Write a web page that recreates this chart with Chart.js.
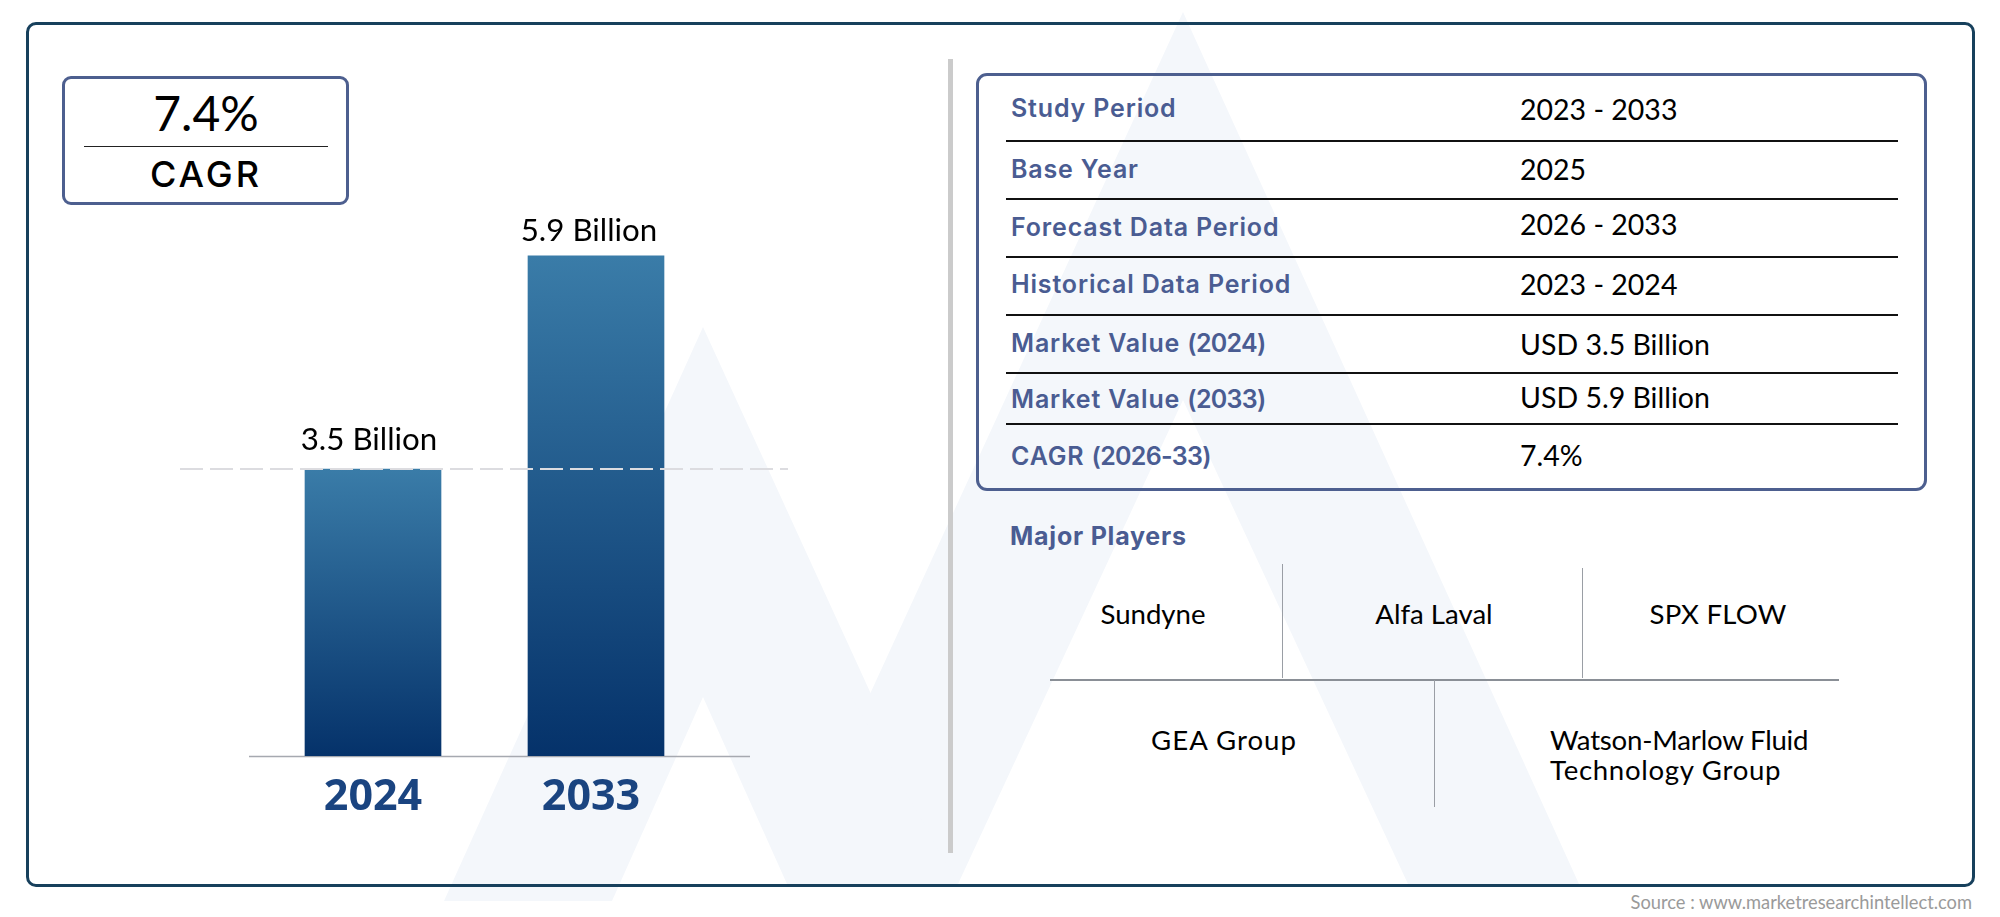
<!DOCTYPE html>
<html><head><meta charset="utf-8">
<script src="https://cdn.jsdelivr.net/npm/chart.js@4"></script>
<style>
html,body{margin:0;padding:0;background:#fff;width:2000px;height:917px;overflow:hidden}
*{box-sizing:border-box}
.abs{position:absolute}
.t{position:absolute;white-space:nowrap;line-height:1;transform:translateY(-50%)}
.c{transform:translate(-50%,-50%)}
.lab{font-family:Inter;font-weight:600;color:#4a5c92;font-size:25px;letter-spacing:.84px}
.lab span{letter-spacing:-.7px}
.val{font-family:Lato;font-weight:400;color:#000;font-size:28.5px}
.pl{font-family:Lato;font-weight:400;color:#000;font-size:27.6px}
</style></head><body>
<svg class="abs" style="left:0;top:0" width="2000" height="917" viewBox="0 0 2000 917">
<g fill="#f4f7fb">
<path d="M703 327 L958 884 L787 884 L703 697 L612 901 L444 901 Z"/>
<path d="M1183 12 L1579 884 L1408 884 L1183 400 L958 884 L850 694 L870 694 Z" />
</g></svg>
<div class="abs" style="left:26px;top:22px;width:1949px;height:865px;border:3.5px solid #17405c;border-radius:10px"></div>
<div class="abs" style="left:62px;top:76px;width:287px;height:129px;border:3px solid #4d5f8f;border-radius:9px"></div>
<div class="abs" style="left:84px;top:146px;width:244px;height:1px;background:#222"></div>
<div class="t c" style="left:206px;top:113px;font-family:Lato;font-size:48px;color:#000">7.4%</div>
<div class="t c" style="left:206px;top:174px;font-family:Inter;font-weight:500;font-size:36px;letter-spacing:3px;color:#000">CAGR</div>
<div class="abs" style="left:948px;top:59px;width:5px;height:794px;background:#cbcbcb"></div>
<div class="abs" style="left:976px;top:73px;width:951px;height:418px;border:3px solid #4d5f8f;border-radius:11px"></div>
<div id="table"></div>
<div class="t lab" style="left:1010px;top:536px;font-weight:700;letter-spacing:.77px">Major Players</div>
<div class="abs" style="left:1282px;top:564px;width:1px;height:114px;background:#9a9ea5"></div>
<div class="abs" style="left:1582px;top:568px;width:1px;height:110px;background:#9a9ea5"></div>
<div class="abs" style="left:1050px;top:679px;width:789px;height:1.5px;background:#8a8f96"></div>
<div class="abs" style="left:1434px;top:680px;width:1px;height:127px;background:#9a9ea5"></div>
<div class="t c pl" style="left:1153px;top:614px">Sundyne</div>
<div class="t c pl" style="left:1434px;top:614px">Alfa Laval</div>
<div class="t c pl" style="left:1718px;top:614px;letter-spacing:.2px">SPX FLOW</div>
<div class="t c pl" style="left:1224px;top:740px;letter-spacing:1px">GEA Group</div>
<div class="t pl" style="left:1550px;top:740px;letter-spacing:-.2px">Watson-Marlow Fluid</div>
<div class="t pl" style="left:1550px;top:770px;letter-spacing:.7px">Technology Group</div>
<div class="t" style="right:28px;top:902px;font-family:Lato;font-size:18.3px;color:#9a9a9a">Source : www.marketresearchintellect.com</div>
<canvas id="c" class="abs" style="left:0;top:0" width="2000" height="917"></canvas>
<script>
const categories=["2024","2033"];
const marketValues=[3.5,5.9];
const valueLabels=["3.5 Billion","5.9 Billion"];
const tableLabels=["Study Period","Base Year","Forecast Data Period","Historical Data Period","Market Value <span>(2024)</span>","Market Value <span>(2033)</span>","CAGR <span>(2026-33)</span>"];
const tableValues=["2023 - 2033","2025","2026 - 2033","2023 - 2024","USD 3.5 Billion","USD 5.9 Billion","7.4%"];
const labelY=[108,169,227,284,343,399,456];
const valueY=[109,169,224,284,344,397,455];
const ruleY=[140,198,256,314,372,423];
const tickDx=[0,-5];
const labelDx=[-4,-7];
const labelDy=[-29,-25];
const tb=document.getElementById('table');
tableLabels.forEach((s,i)=>{
  tb.insertAdjacentHTML('beforeend',`<div class="t lab" style="left:1011px;top:${labelY[i]}px">${s}</div><div class="t val" style="left:1520px;top:${valueY[i]}px">${tableValues[i]}</div>`);
});
ruleY.forEach(y=>tb.insertAdjacentHTML('beforeend',`<div class="abs" style="left:1006px;top:${y}px;width:892px;height:1.5px;background:#111"></div>`));
const overlay={id:'overlay',
  beforeDraw(ch){const s=ch.scales.x;s.getLabelItems().forEach((it,i)=>{it.options.translation[0]=s.getPixelForTick(i)+tickDx[i];});},
  beforeDatasetsDraw(ch){const c=ch.ctx,a=ch.chartArea;c.save();c.strokeStyle='#a6a9b0';c.lineWidth=1.5;c.beginPath();c.moveTo(249,a.bottom+.5);c.lineTo(750,a.bottom+.5);c.stroke();c.restore();},
  afterDatasetsDraw(ch){const c=ch.ctx,y=ch.scales.y,m=ch.getDatasetMeta(0);c.save();
    c.strokeStyle='#dcdce0';c.lineWidth=2;c.setLineDash([23,7]);c.beginPath();const py=y.getPixelForValue(marketValues[0]);c.moveTo(180,py);c.lineTo(788,py);c.stroke();c.setLineDash([]);
    c.fillStyle='#000';c.font='400 31.3px Lato';c.textAlign='center';c.textBaseline='middle';
    m.data.forEach((b,i)=>c.fillText(valueLabels[i],b.x+labelDx[i],b.y+labelDy[i]));
    c.restore();}
};
new Chart(document.getElementById('c'),{
  type:'bar',
  data:{labels:categories,datasets:[{data:marketValues,barThickness:136,
    backgroundColor(ctx){const ch=ctx.chart,s=ch.scales.y;
      if(!ch.chartArea||!s||typeof ctx.raw!=='number')return '#1a5a8a';
      const y0=s.getPixelForValue(ctx.raw),y1=s.bottom;
      if(!isFinite(y0)||!isFinite(y1))return '#1a5a8a';
      const g=ch.ctx.createLinearGradient(0,y0,0,y1);
      g.addColorStop(0,'#3a7ca8');g.addColorStop(1,'#05326a');return g;}}]},
  options:{responsive:false,animation:false,
    layout:{padding:{left:261.5,right:1292.5,top:247,bottom:101}},
    plugins:{legend:{display:false},tooltip:{enabled:false}},
    scales:{
      x:{afterFit(s){s.height=60;},grid:{display:false},border:{display:false},
         ticks:{color:'#1a4480',font:{family:'Open Sans',weight:'700',size:43},padding:8,maxRotation:0}},
      y:{display:false,min:0.27,max:6,grid:{display:false}}
    }},
  plugins:[overlay]
});
</script>
</body></html>
